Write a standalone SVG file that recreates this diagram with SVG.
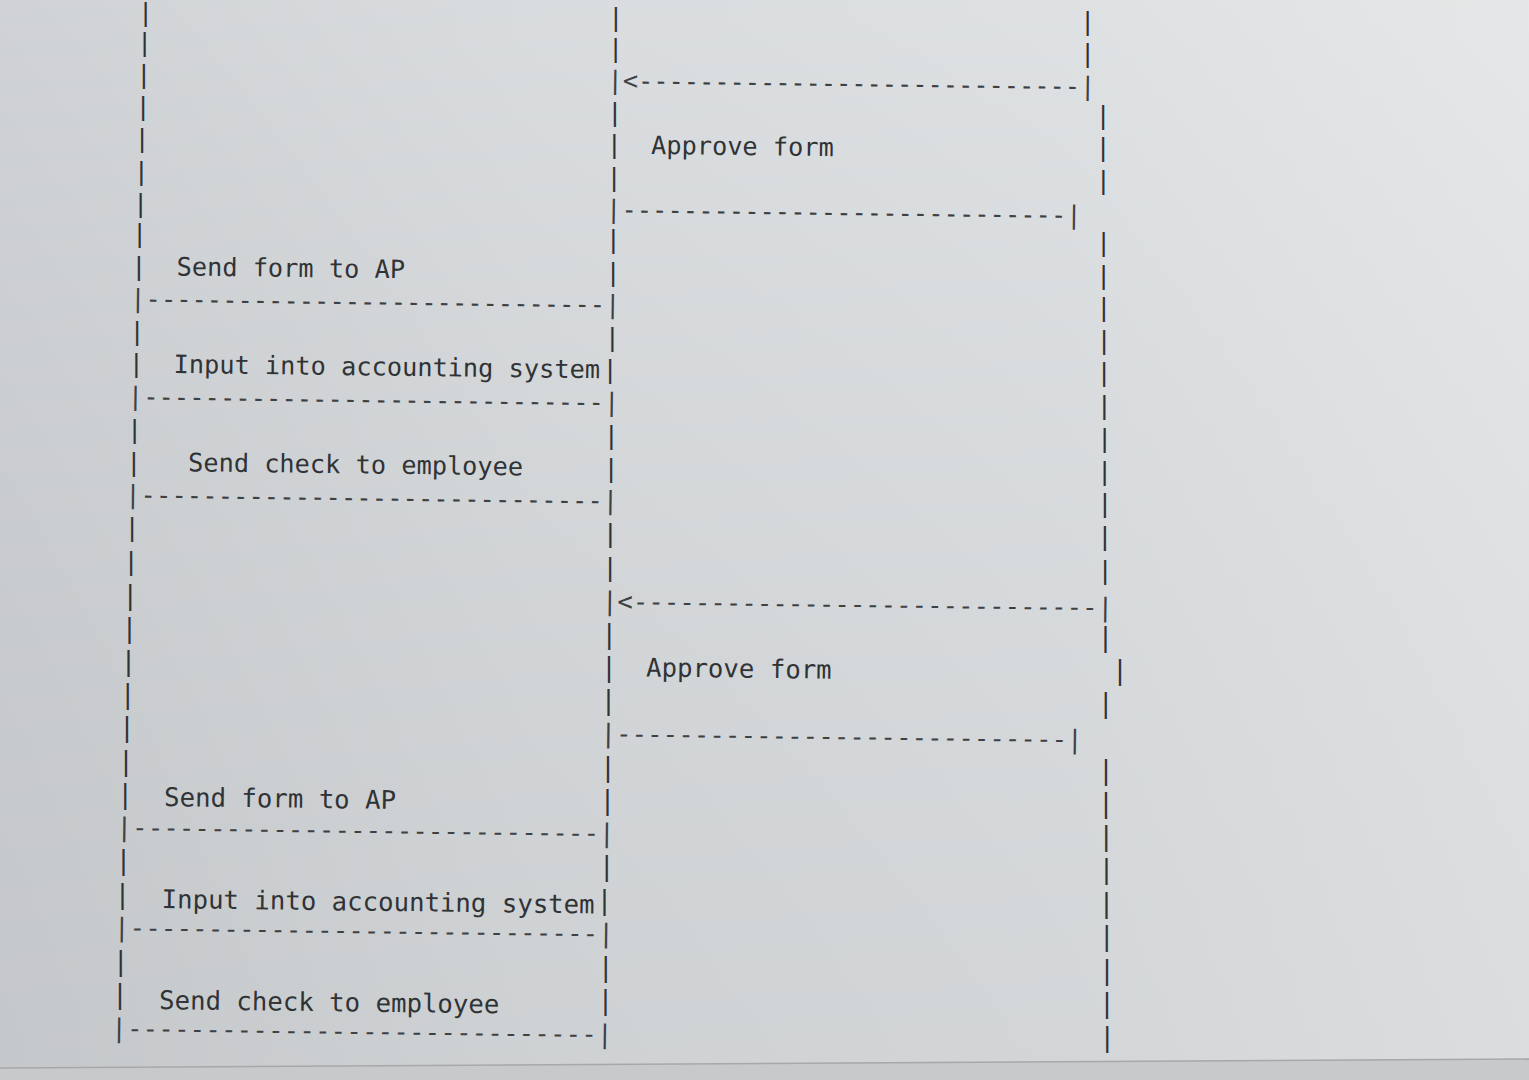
<svg xmlns="http://www.w3.org/2000/svg" width="1529" height="1080" viewBox="0 0 1529 1080">
<defs>
<linearGradient id="bg" x1="0" y1="0" x2="1" y2="0">
<stop offset="0" stop-color="#cdd0d3"/>
<stop offset="0.35" stop-color="#d7dadc"/>
<stop offset="0.7" stop-color="#dcdfe1"/>
<stop offset="1" stop-color="#e4e6e7"/>
</linearGradient>
<linearGradient id="vs" x1="0" y1="0" x2="0" y2="1">
<stop offset="0" stop-color="#ffffff" stop-opacity="0.06"/>
<stop offset="1" stop-color="#000000" stop-opacity="0.04"/>
</linearGradient>
</defs>
<style>
text { font-family: "DejaVu Sans Mono", "Liberation Mono", monospace; fill: #303336; }
.t { font-size: 25.3px; }
.b { font-size: 25.7px; }
.p { text-anchor: middle; }
.d { fill: #3e4144; }
</style>
<rect x="0" y="0" width="1529" height="1080" fill="url(#bg)"/>
<rect x="0" y="0" width="1529" height="1080" fill="url(#vs)"/>
<polygon points="0,1068 1529,1059 1529,1080 0,1080" fill="#c7c9ca"/>
<line x1="0" y1="1068" x2="1529" y2="1059" stroke="#a6a8a9" stroke-width="1.5"/>

<g id="lifeline-left">
<text class="t p" x="145.5" y="20.5">|</text>
<text class="t p" x="144.7" y="50.9">|</text>
<text class="t p" x="143.9" y="83">|</text>
<text class="t p" x="143.0" y="115.2">|</text>
<text class="t p" x="142.2" y="147.4">|</text>
<text class="t p" x="141.4" y="179.7">|</text>
<text class="t p" x="140.5" y="212">|</text>
<text class="t p" x="139.7" y="242.4">|</text>
<text class="t p" x="138.9" y="274.8">|</text>
<text class="t p" x="137.2" y="339.8">|</text>
<text class="t p" x="136.3" y="372.4">|</text>
<text class="t p" x="134.6" y="437.8">|</text>
<text class="t p" x="133.8" y="470.5">|</text>
<text class="t p" x="132.1" y="536.1">|</text>
<text class="t p" x="131.2" y="570">|</text>
<text class="b p" x="130.3" y="604">|</text>
<text class="b p" x="129.5" y="637">|</text>
<text class="b p" x="128.6" y="670">|</text>
<text class="b p" x="127.7" y="703.1">|</text>
<text class="b p" x="126.9" y="736.3">|</text>
<text class="b p" x="126.0" y="769.5">|</text>
<text class="b p" x="125.2" y="802.7">|</text>
<text class="b p" x="123.4" y="869.4">|</text>
<text class="b p" x="122.6" y="902.8">|</text>
<text class="b p" x="120.8" y="969.8">|</text>
<text class="b p" x="119.9" y="1003.3">|</text>
</g>

<g id="lifeline-middle">
<text class="t p" x="615.8" y="25.5">|</text>
<text class="t p" x="615.5" y="56.9">|</text>
<text class="t p" x="614.8" y="121.2">|</text>
<text class="t p" x="614.4" y="153.4">|</text>
<text class="t p" x="614.1" y="185.7">|</text>
<text class="t p" x="613.4" y="248.4">|</text>
<text class="t p" x="613.1" y="280.8">|</text>
<text class="t p" x="612.4" y="345.8">|</text>
<text class="t p" x="610.1" y="378.4">|</text>
<text class="t p" x="611.4" y="443.8">|</text>
<text class="t p" x="611.0" y="476.5">|</text>
<text class="t p" x="610.3" y="542.1">|</text>
<text class="t p" x="610.0" y="576">|</text>
<text class="b p" x="609.3" y="643">|</text>
<text class="b p" x="608.9" y="676">|</text>
<text class="b p" x="608.6" y="709.1">|</text>
<text class="b p" x="607.9" y="775.5">|</text>
<text class="b p" x="607.5" y="808.7">|</text>
<text class="b p" x="606.8" y="875.4">|</text>
<text class="b p" x="604.4" y="908.8">|</text>
<text class="b p" x="605.7" y="975.8">|</text>
<text class="b p" x="605.4" y="1009.3">|</text>
</g>

<g id="lifeline-right">
<text class="t p" x="1087.5" y="29.8">|</text>
<text class="t p" x="1087.5" y="61.9">|</text>
<text class="t p" x="1103.0" y="124.2">|</text>
<text class="t p" x="1103.2" y="156.4">|</text>
<text class="t p" x="1103.3" y="188.7">|</text>
<text class="t p" x="1103.6" y="251.4">|</text>
<text class="t p" x="1103.7" y="283.8">|</text>
<text class="t p" x="1103.9" y="316.3">|</text>
<text class="t p" x="1104.0" y="348.8">|</text>
<text class="t p" x="1104.2" y="381.4">|</text>
<text class="t p" x="1104.3" y="414.1">|</text>
<text class="t p" x="1104.5" y="446.8">|</text>
<text class="t p" x="1104.6" y="479.5">|</text>
<text class="t p" x="1104.8" y="512.3">|</text>
<text class="t p" x="1104.9" y="545.1">|</text>
<text class="t p" x="1105.1" y="579">|</text>
<text class="b p" x="1105.4" y="646">|</text>
<text class="b p" x="1120.0" y="679">|</text>
<text class="b p" x="1105.7" y="712.1">|</text>
<text class="b p" x="1106.0" y="778.5">|</text>
<text class="b p" x="1106.1" y="811.7">|</text>
<text class="b p" x="1106.3" y="845">|</text>
<text class="b p" x="1106.4" y="878.4">|</text>
<text class="b p" x="1106.6" y="911.8">|</text>
<text class="b p" x="1106.7" y="945.3">|</text>
<text class="b p" x="1106.9" y="978.8">|</text>
<text class="b p" x="1107.0" y="1012.3">|</text>
<text class="b p" x="1107.2" y="1046">|</text>
</g>

<g id="connectors">
<text id="msg-approve-1-in" class="t d" x="607.5" y="89" style="letter-spacing:0.01px" transform="rotate(0.716 607.5 89)">|&lt;-----------------------------|</text>
<text id="msg-approve-1-out" class="t d" x="606.1" y="218" style="letter-spacing:0.11px" transform="rotate(0.716 606.1 218)">|-----------------------------|</text>
<text id="msg-send-ap-1" class="t d" x="130.3" y="307.3" style="letter-spacing:0.085px" transform="rotate(0.716 130.3 307.3)">|------------------------------|</text>
<text id="msg-input-1" class="t d" x="127.8" y="405.1" style="letter-spacing:0.13px" transform="rotate(0.716 127.8 405.1)">|------------------------------|</text>
<text id="msg-check-1" class="t d" x="125.2" y="503.3" style="letter-spacing:0.18px" transform="rotate(0.716 125.2 503.3)">|------------------------------|</text>
<text id="msg-approve-2-in" class="b d" x="601.9" y="610" style="letter-spacing:0.02px" transform="rotate(0.716 601.9 610)">|&lt;------------------------------|</text>
<text id="msg-approve-2-out" class="b d" x="600.4" y="742.3" style="letter-spacing:0.09px" transform="rotate(0.716 600.4 742.3)">|-----------------------------|</text>
<text id="msg-send-ap-2" class="b d" x="116.5" y="836" style="letter-spacing:0.10px" transform="rotate(0.716 116.5 836)">|------------------------------|</text>
<text id="msg-input-2" class="b d" x="113.9" y="936.3" style="letter-spacing:0.16px" transform="rotate(0.716 113.9 936.3)">|------------------------------|</text>
<text id="msg-check-2" class="b d" x="111.3" y="1037" style="letter-spacing:0.2px" transform="rotate(0.716 111.3 1037)">|------------------------------|</text>
</g>

<g id="label-approve-1"><text class="t" x="651" y="153.9" transform="rotate(0.716 651 153.9)">Approve form</text></g>
<g id="label-send-ap-1"><text class="t" x="176.5" y="275.4" transform="rotate(0.716 176.5 275.4)">Send form to AP</text></g>
<g id="label-input-1"><text class="t" x="173.5" y="372.9" transform="rotate(0.716 173.5 372.9)">Input into accounting system</text></g>
<g id="label-check-1"><text class="t" x="188" y="471.2" transform="rotate(0.716 188 471.2)">Send check to employee</text></g>
<g id="label-approve-2"><text class="b" x="646" y="676.4" transform="rotate(0.716 646 676.4)">Approve form</text></g>
<g id="label-send-ap-2"><text class="b" x="164" y="806" transform="rotate(0.716 164 806)">Send form to AP</text></g>
<g id="label-input-2"><text class="b" x="161.5" y="908" transform="rotate(0.716 161.5 908)">Input into accounting system</text></g>
<g id="label-check-2"><text class="b" x="159" y="1009" transform="rotate(0.716 159 1009)">Send check to employee</text></g>
</svg>
